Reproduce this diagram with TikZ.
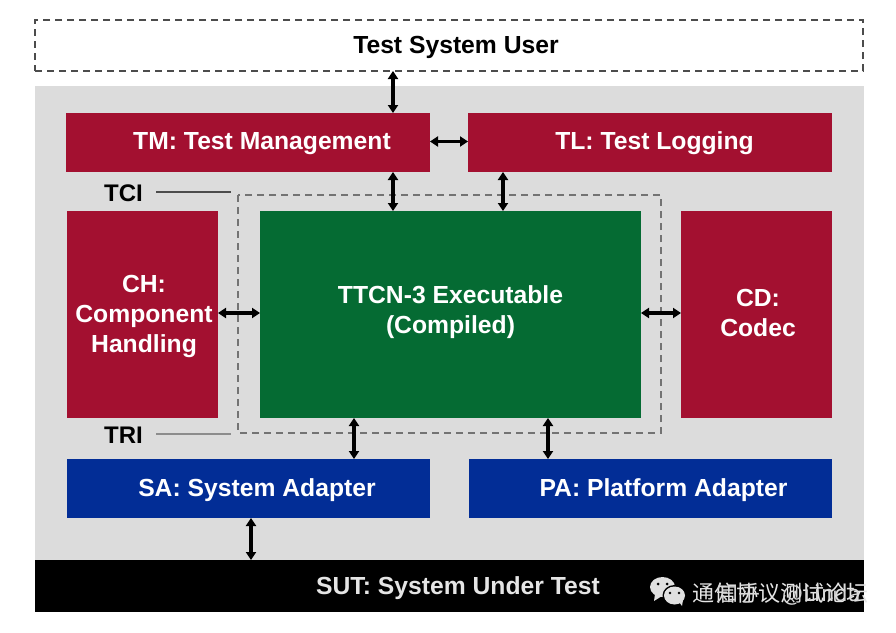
\documentclass[tikz,border=0pt]{standalone}
\usepackage{fontspec}
\setmainfont{Liberation Sans}
\newfontfamily\cjk{Noto Sans CJK SC}
\usetikzlibrary{arrows.meta}
\definecolor{crim}{RGB}{163,16,48}
\definecolor{grn}{RGB}{5,107,51}
\definecolor{blu}{RGB}{2,45,150}
\definecolor{pale}{RGB}{220,220,220}
\tikzset{
  x=1pt,y=-1pt,
  boxn/.style={rectangle,inner sep=0pt,outer sep=0pt,anchor=north west},
  redbox/.style={boxn,fill=crim},
  greenbox/.style={boxn,fill=grn},
  bluebox/.style={boxn,fill=blu},
  txt/.style={inner sep=0pt,align=center,text=white,font=\bfseries\fontsize{24.7}{30}\selectfont},
  lab/.style={font=\bfseries\fontsize{24}{28}\selectfont,text=black,inner sep=0pt},
  dbl/.style={draw=black,line width=3.2pt,{Triangle[length=8pt,width=10pt]}-{Triangle[length=8pt,width=10pt]}},
  dsh/.style={draw=black!70,line width=2pt,dash pattern=on 7pt off 5pt},
  ln/.style={line width=1.6pt}
}
\begin{document}
\begin{tikzpicture}
\useasboundingbox (0,0) rectangle (896,632);
\fill[white] (0,0) rectangle (896,632);
\fill[pale] (35,86) rectangle (864,612);
\node[boxn,minimum width=828pt,minimum height=51pt,dsh,fill=white] (user) at (35,20) {};
\node[txt,text=black] (usert) at ([shift={(7,2)}]user.center) {Test System User};
\node[boxn,minimum width=829pt,minimum height=52pt,fill=black] (sut) at (35,560) {};
\node[txt,text=white!90!black] (sutt) at ([shift={(8.5,2)}]sut.center) {SUT: System Under Test};
\node[redbox,minimum width=364pt,minimum height=59pt] (tm) at (66,113) {};
\node[txt] (tmt) at ([shift={(14,1)}]tm.center) {TM: Test Management};
\node[redbox,minimum width=364pt,minimum height=59pt] (tl) at (468,113) {};
\node[txt] (tlt) at ([shift={(4.5,1)}]tl.center) {TL: Test Logging};
\draw[dsh,draw=black!55] (238,195) rectangle (661,433);
\node[redbox,minimum width=151pt,minimum height=207pt] (ch) at (67,211) {};
\node[txt] (cht) at ([shift={(1.5,2)}]ch.center) {CH:\\Component\\Handling};
\node[greenbox,minimum width=381pt,minimum height=207pt] (exe) at (260,211) {};
\node[txt] (exet) at ([shift={(0,-2)}]exe.center) {TTCN-3 Executable\\(Compiled)};
\node[redbox,minimum width=151pt,minimum height=207pt] (cd) at (681,211) {};
\node[txt] (cdt) at ([shift={(1.5,-2)}]cd.center) {CD:\\Codec};
\node[bluebox,minimum width=363pt,minimum height=59pt] (sa) at (67,459) {};
\node[txt] (sat) at ([shift={(8.5,2)}]sa.center) {SA: System Adapter};
\node[bluebox,minimum width=363pt,minimum height=59pt] (pa) at (469,459) {};
\node[txt] (pat) at ([shift={(13,2)}]pa.center) {PA: Platform Adapter};
\node[lab,anchor=west] (tci) at (104,193) {TCI};
\node[lab,anchor=west] (tri) at (104,435) {TRI};
\coordinate (tcis) at (156,192);
\coordinate (tcie) at (231,192);
\coordinate (tris) at (156,434);
\coordinate (trie) at (231,434);
\draw[ln,draw=black!70] (tcis) -- (tcie);
\draw[line width=2.4pt,draw=black!45] (tris) -- (trie);
\coordinate (xa) at (393,0);
\coordinate (xb) at (503,0);
\coordinate (xc) at (354,0);
\coordinate (xd) at (548,0);
\coordinate (xe) at (251,0);
\coordinate (ya) at (0,141.5);
\coordinate (yb) at (0,313);
\draw[dbl] (user.south -| xa) -- (tm.north -| xa);
\draw[dbl] (tm.east |- ya) -- (tl.west |- ya);
\draw[dbl] (tm.south -| xa) -- (exe.north -| xa);
\draw[dbl] (tl.south -| xb) -- (exe.north -| xb);
\draw[dbl] (ch.east |- yb) -- (exe.west |- yb);
\draw[dbl] (exe.east |- yb) -- (cd.west |- yb);
\draw[dbl] (exe.south -| xc) -- (sa.north -| xc);
\draw[dbl] (exe.south -| xd) -- (pa.north -| xd);
\draw[dbl] (sa.south -| xe) -- (sut.north -| xe);
% WeChat mark
\fill[white!88!black] (662.5,587) ellipse (12.5 and 10);
\fill[white!88!black] (655,594) -- (654,601) -- (662,596) -- cycle;
\fill[black] (674.5,595.5) ellipse (12 and 10.5);
\fill[white!88!black] (674.5,595.5) ellipse (10.5 and 9);
\fill[white!88!black] (679,602) -- (682,606) -- (683,600) -- cycle;
\fill[black] (658,584) circle (1.5) (667,584) circle (1.5) (670,593) circle (1.4) (679,593) circle (1.4);
\node[inner sep=0pt,anchor=west,text=white!90!black,font=\cjk\fontsize{22}{28}\selectfont] (wm1) at (692,593) {通信协议测试论坛};
\node[inner sep=0pt,anchor=west,text=white!85!black,font=\cjk\fontsize{22}{28}\selectfont] (wm2) at (716,594) {知乎\hspace{22pt}@Linda};
\end{tikzpicture}
\end{document}
